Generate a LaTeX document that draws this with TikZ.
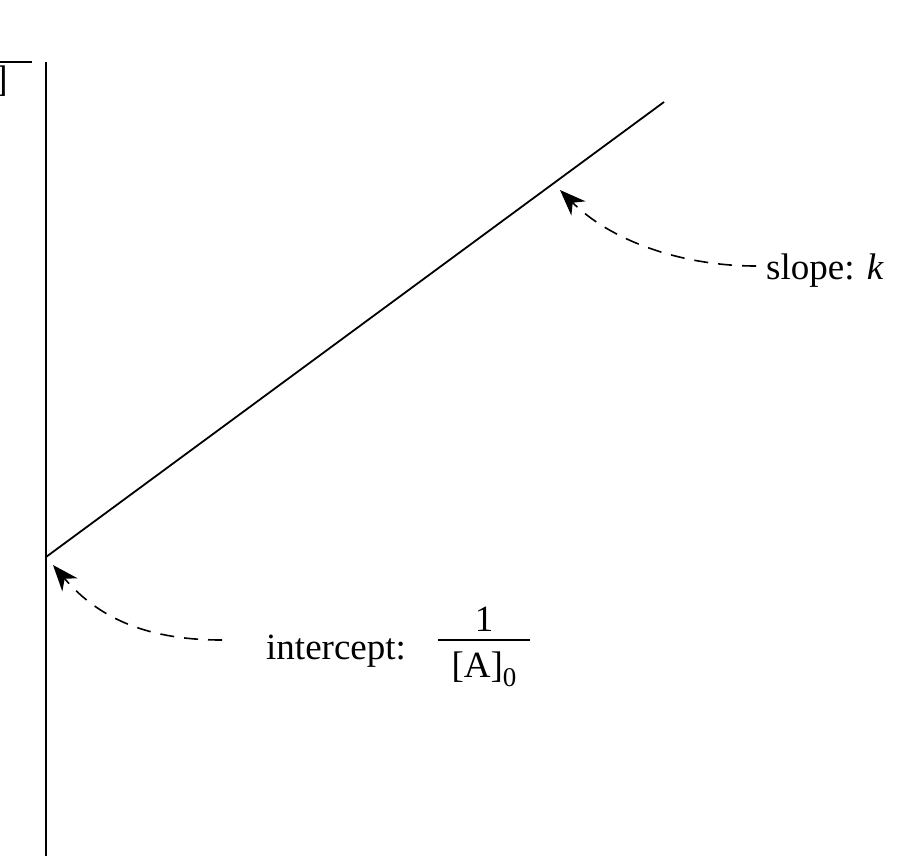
\documentclass[tikz,border=0pt]{standalone}
\usepackage{fontspec}
\setmainfont{Liberation Serif}
\usepackage{unicode-math}
\setmathfont{Latin Modern Math}
\usetikzlibrary{arrows.meta}
\tikzset{
  lbl/.style={inner sep=0pt, font=\fontsize{37}{44}\selectfont},
  ann/.style={line width=1.6pt, dash pattern=on 14pt off 10pt, -{Stealth[length=26pt,width=20pt,inset=8pt]}},
  ln/.style={line width=1.8pt}
}
\begin{document}
\begin{tikzpicture}[x=1pt,y=-1pt]
\useasboundingbox (0,0) rectangle (912,855);
\clip (0,0) rectangle (912,855);
% axis
\coordinate (atop) at (46,62);
\coordinate (abot) at (46,860);
\draw[ln] (atop) -- (abot);
% cut-off y label
\coordinate (fl) at (-70,62);
\coordinate (fr) at (32,62);
\draw[line width=2pt] (fl) -- (fr);
\node[lbl, anchor=north east] (ya) at (8,66) {[A]};
% line
\coordinate (p0) at (46,557);
\coordinate (p1) at (664,102);
\draw[ln] (p0) -- (p1);
% slope annotation
\node[lbl, anchor=base west] (slope) at (766,279) {slope: \textit{k}};
\coordinate (s0) at (756,266);
\coordinate (s1) at (560,190);
\draw[ann] (s0) .. controls (680,266) and (610,240) .. (s1);
% intercept annotation
\node[lbl, anchor=base west] (icpt) at (266,659) {intercept:};
\node[lbl] (one) at (484,619) {1};
\coordinate (b0) at (438,640);
\coordinate (b1) at (530,640);
\draw[line width=1.8pt] (b0) -- (b1);
\node[lbl, anchor=base] (a0) at (484,677) {[A]\raisebox{-9pt}{\fontsize{27}{30}\selectfont 0}};
\coordinate (i0) at (222,640);
\coordinate (i1) at (53,565);
\draw[ann] (i0) .. controls (150,640) and (100,620) .. (i1);
\end{tikzpicture}
\end{document}
